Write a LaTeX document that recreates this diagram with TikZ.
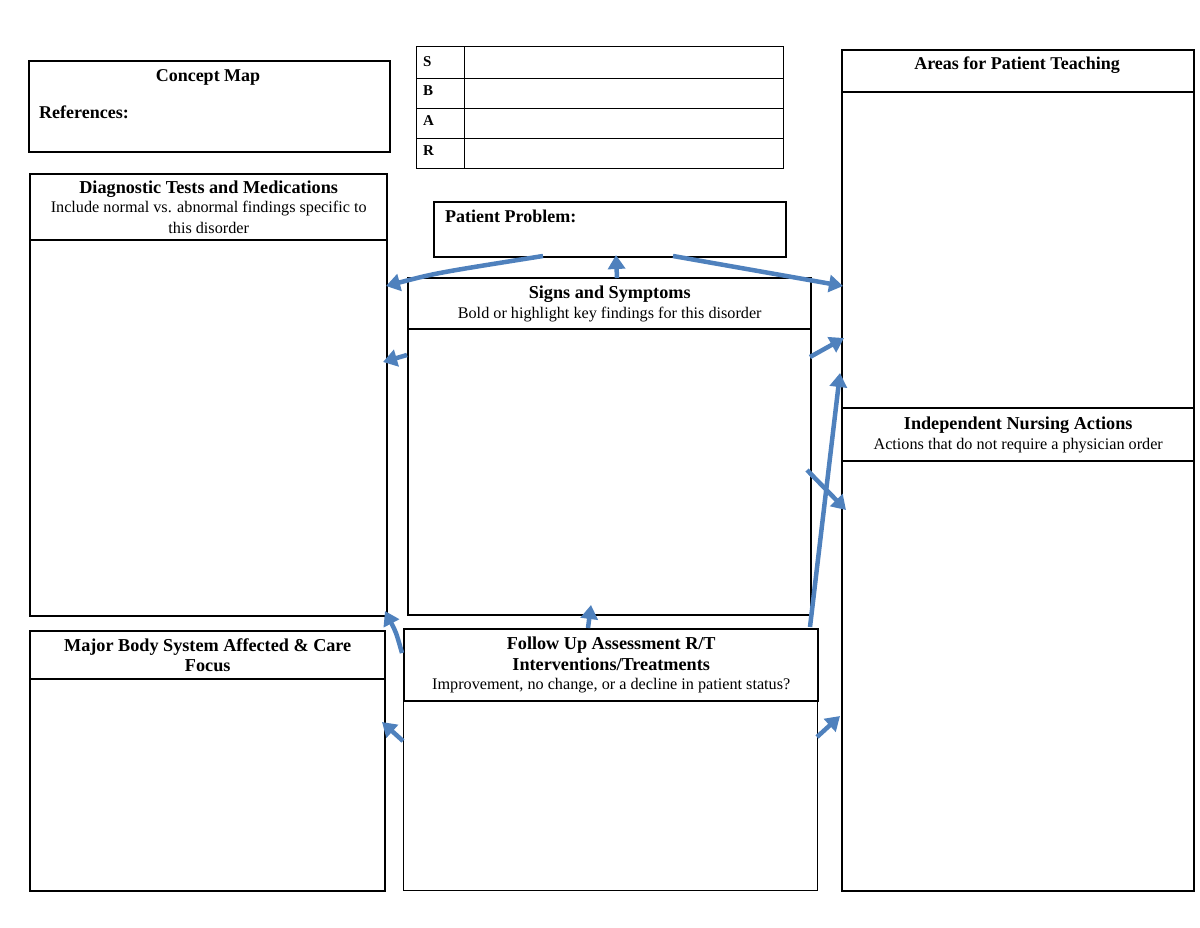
\documentclass[tikz,border=0pt]{standalone}
\usepackage{fontspec}
\setmainfont{Liberation Serif}
\usetikzlibrary{arrows.meta}
\definecolor{arrowblue}{RGB}{79,129,189}
\newcommand{\subsz}{\fontsize{16.2}{18.5}\selectfont}
\tikzset{
  box/.style={draw=black, line width=2.4pt, rectangle, inner sep=0pt, anchor=north west},
  thinbox/.style={draw=black, line width=1pt, rectangle, inner sep=0pt, anchor=north west},
  hdr/.style={box, align=center, font=\fontsize{18.2}{20.5}\selectfont},
  ttl/.style={font=\fontsize{18}{20.5}\selectfont\bfseries},
  lbl/.style={inner sep=0pt, font=\fontsize{15}{18}\selectfont\bfseries},
  link/.style={draw=arrowblue, line width=4.5pt, -{Triangle[length=14pt,width=17pt]}},
}
\begin{document}
\begin{tikzpicture}[x=1pt,y=-1pt]
\useasboundingbox (0,0) rectangle (1200,927);
% Concept map box
\node[box, minimum width=361pt, minimum height=91pt] (cm) at (28,60) {};
\node[inner sep=0pt, font=\fontsize{18}{20}\selectfont\bfseries] (cmt) at (208,77) {Concept Map};
\node[inner sep=0pt, anchor=west, font=\fontsize{18}{20}\selectfont\bfseries] (ref) at (39,112) {References:};
% SBAR table
\node[thinbox, minimum width=367pt, minimum height=122pt] (sbar) at (416,46) {};
\draw[line width=1pt] (464,46) -- (464,168);
\foreach \yy in {78,108,138} \draw[line width=1pt] (416,\yy) -- (783,\yy);
\node[lbl, anchor=west] (ls) at (423,62) {S};
\node[lbl, anchor=west] (lb) at (423,91) {B};
\node[lbl, anchor=west] (la) at (423,121) {A};
\node[lbl, anchor=west] (lr) at (423,151) {R};
% Diagnostic tests
\node[hdr, minimum width=357pt, minimum height=66pt] (dth) at (29,173) {\textbf{Diagnostic Tests and Medications}\\[-1pt]\subsz Include normal vs. abnormal findings specific to\\\subsz this disorder};
\node[box, minimum width=357pt, minimum height=376pt] (dtb) at (29,239) {};
% Major body system
\node[hdr, minimum width=355pt, minimum height=48pt] (mbh) at (29,630) {\textbf{Major Body System Affected \& Care}\\\textbf{Focus}};
\node[box, minimum width=355pt, minimum height=212pt] (mbb) at (29,678) {};
% Patient problem
\node[box, minimum width=352pt, minimum height=55pt] (pp) at (433,201) {};
\node[ttl, inner sep=0pt, anchor=west] (ppt) at (445,216) {Patient Problem:};
% Signs and symptoms
\node[hdr, minimum width=403pt, minimum height=51pt] (ssh) at (407,277) {\textbf{Signs and Symptoms}\\\subsz Bold or highlight key findings for this disorder};
\node[box, minimum width=403pt, minimum height=286pt] (ssb) at (407,328) {};
% Follow up
\node[thinbox, minimum width=414pt, minimum height=190pt] (fub) at (403,700) {};
\node[hdr, minimum width=414pt, minimum height=72pt] (fuh) at (403,628) {\textbf{Follow Up Assessment R/T}\\\textbf{Interventions/Treatments}\\[-1pt]\subsz Improvement, no change, or a decline in patient status?};
% Areas for patient teaching
\node[box, minimum width=352pt, minimum height=358pt] (apb) at (841,49) {};
\node[box, minimum width=352pt, minimum height=42pt] (aph) at (841,49) {};
\node[ttl, inner sep=0pt] (apt) at (1017,65) {Areas for Patient Teaching};
% Independent nursing actions
\node[box, minimum width=352pt, minimum height=483pt] (inb) at (841,407) {};
\node[hdr, minimum width=352pt, minimum height=53pt] (inh) at (841,407) {\textbf{Independent Nursing Actions}\\\subsz Actions that do not require a physician order};
% arrow end points
\coordinate (a1s) at (543,256); \coordinate (a1e) at (386,286);
\coordinate (a2s) at (617,278); \coordinate (a2e) at (616,255);
\coordinate (a3s) at (673,256); \coordinate (a3e) at (843,286);
\coordinate (a4s) at (407,355); \coordinate (a4e) at (383,362);
\coordinate (a5s) at (810,357); \coordinate (a5e) at (844,338);
\coordinate (a6s) at (810,627); \coordinate (a6e) at (840,373);
\coordinate (a7s) at (807,470); \coordinate (a7e) at (846,510);
\coordinate (a8s) at (817,737); \coordinate (a8e) at (840,716);
\coordinate (a9s) at (588,628); \coordinate (a9e) at (591,605);
\coordinate (a10s) at (402,653); \coordinate (a10e) at (385,611);
\coordinate (a11s) at (403,741); \coordinate (a11e) at (382,722);
\draw[link] (a1s) .. controls (436,273) .. (a1e);
\draw[link] (a2s) -- (a2e);
\draw[link] (a3s) -- (a3e);
\draw[link] (a4s) -- (a4e);
\draw[link] (a5s) -- (a5e);
\draw[link] (a6s) -- (a6e);
\draw[link] (a7s) -- (a7e);
\draw[link] (a8s) -- (a8e);
\draw[link] (a9s) -- (a9e);
\draw[link] (a10s) .. controls (396,632) .. (a10e);
\draw[link] (a11s) -- (a11e);
\end{tikzpicture}
\end{document}
